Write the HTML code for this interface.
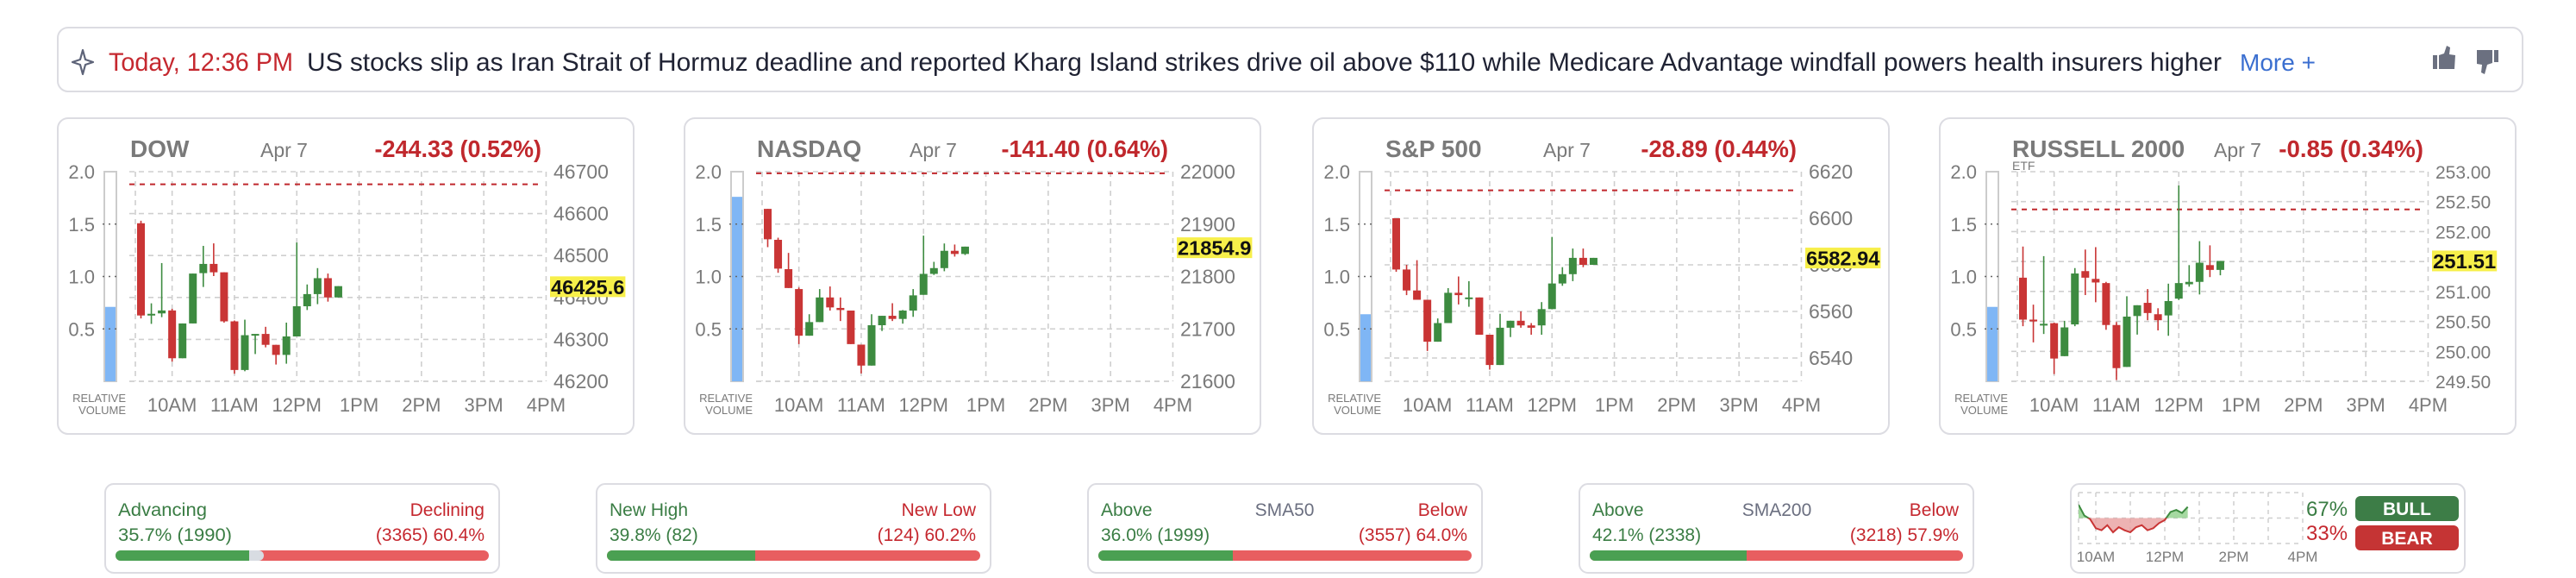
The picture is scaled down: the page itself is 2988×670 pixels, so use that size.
<!DOCTYPE html>
<html><head><meta charset="utf-8">
<style>
html,body{margin:0;padding:0;background:#fff;width:2988px;height:670px;overflow:hidden;}
svg{display:block;font-family:"Liberation Sans",sans-serif;}
</style></head>
<body>
<svg id="root" width="2988" height="670" viewBox="0 0 2988 670" xmlns="http://www.w3.org/2000/svg">
  <!-- News bar -->
  <g>
    <rect x="67" y="32" width="2859" height="74" rx="12" fill="#fff" stroke="#dcdce2" stroke-width="2"/>
    <path d="M96 58 L99 69 L108 72 L99 75 L96 86 L93 75 L84 72 L93 69 Z" fill="none" stroke="#5d6378" stroke-width="2.2" stroke-linejoin="round"/>
    <text x="126" y="82" font-size="30" fill="#c5282f" textLength="214" lengthAdjust="spacingAndGlyphs">Today, 12:36 PM</text>
    <text x="356" y="82" font-size="30" fill="#1f2233" textLength="2221" lengthAdjust="spacingAndGlyphs">US stocks slip as Iran Strait of Hormuz deadline and reported Kharg Island strikes drive oil above $110 while Medicare Advantage windfall powers health insurers higher</text>
    <text x="2598" y="82" font-size="28" fill="#3b6fd0" textLength="88" lengthAdjust="spacingAndGlyphs">More +</text>
    <g fill="#6b7080">
      <rect x="2822" y="64" width="5" height="16"/>
      <path d="M2829 64 L2835 62 L2838 53 L2842 55 L2841 63 L2848 64 L2847 80 L2829 80 Z"/>
    </g>
    <g fill="#6b7080">
      <rect x="2893" y="58" width="5" height="14"/>
      <path d="M2873 58 L2891 58 L2891 73 L2885 75 L2882 86 L2878 84 L2879 75 L2873 74 Z"/>
    </g>
  </g>

  <g id="cards"></g>

  <!-- Breadth boxes -->
  <g>
    <rect x="122" y="561" width="457" height="103" rx="10" fill="#fff" stroke="#dcdce2" stroke-width="2"/>
    <text x="137" y="598" font-size="21" fill="#3a7d44" textLength="103" lengthAdjust="spacingAndGlyphs">Advancing</text>
    <text x="562" y="598" font-size="21" fill="#c5282f" text-anchor="end">Declining</text>
    <text x="137" y="627" font-size="21" fill="#3a7d44" textLength="132" lengthAdjust="spacingAndGlyphs">35.7% (1990)</text>
    <text x="562" y="627" font-size="21" fill="#c5282f" text-anchor="end">(3365) 60.4%</text>
    <rect x="134" y="638" width="433" height="12" rx="6" fill="#e85e60"/>
    <rect x="134" y="638" width="172" height="12" rx="6" fill="#d8dce2"/>
    <rect x="134" y="638" width="155" height="12" rx="6" fill="#4aa052"/>
    <rect x="282" y="638" width="7" height="12" fill="#4aa052"/>
  </g>
  <g>
    <rect x="692" y="561" width="457" height="103" rx="10" fill="#fff" stroke="#dcdce2" stroke-width="2"/>
    <text x="707" y="598" font-size="21" fill="#3a7d44">New High</text>
    <text x="1132" y="598" font-size="21" fill="#c5282f" text-anchor="end">New Low</text>
    <text x="707" y="627" font-size="21" fill="#3a7d44">39.8% (82)</text>
    <text x="1132" y="627" font-size="21" fill="#c5282f" text-anchor="end">(124) 60.2%</text>
    <rect x="704" y="638" width="433" height="12" rx="6" fill="#e85e60"/>
    <rect x="704" y="638" width="172" height="12" rx="6" fill="#4aa052"/>
    <rect x="866" y="638" width="10" height="12" fill="#4aa052"/>
  </g>
  <g>
    <rect x="1262" y="561" width="457" height="103" rx="10" fill="#fff" stroke="#dcdce2" stroke-width="2"/>
    <text x="1277" y="598" font-size="21" fill="#3a7d44">Above</text>
    <text x="1490" y="598" font-size="21" fill="#6b6f80" text-anchor="middle">SMA50</text>
    <text x="1702" y="598" font-size="21" fill="#c5282f" text-anchor="end">Below</text>
    <text x="1277" y="627" font-size="21" fill="#3a7d44">36.0% (1999)</text>
    <text x="1702" y="627" font-size="21" fill="#c5282f" text-anchor="end">(3557) 64.0%</text>
    <rect x="1274" y="638" width="433" height="12" rx="6" fill="#e85e60"/>
    <rect x="1274" y="638" width="156" height="12" rx="6" fill="#4aa052"/>
    <rect x="1420" y="638" width="10" height="12" fill="#4aa052"/>
  </g>
  <g>
    <rect x="1832" y="561" width="457" height="103" rx="10" fill="#fff" stroke="#dcdce2" stroke-width="2"/>
    <text x="1847" y="598" font-size="21" fill="#3a7d44">Above</text>
    <text x="2061" y="598" font-size="21" fill="#6b6f80" text-anchor="middle">SMA200</text>
    <text x="2272" y="598" font-size="21" fill="#c5282f" text-anchor="end">Below</text>
    <text x="1847" y="627" font-size="21" fill="#3a7d44">42.1% (2338)</text>
    <text x="2272" y="627" font-size="21" fill="#c5282f" text-anchor="end">(3218) 57.9%</text>
    <rect x="1844" y="638" width="433" height="12" rx="6" fill="#e85e60"/>
    <rect x="1844" y="638" width="182" height="12" rx="6" fill="#4aa052"/>
    <rect x="2016" y="638" width="10" height="12" fill="#4aa052"/>
  </g>
  <g id="sentiment">
    <rect x="2402" y="561" width="457" height="103" rx="10" fill="#fff" stroke="#dcdce2" stroke-width="2"/>
    <text x="2675" y="598" font-size="24" fill="#3a7d44">67%</text>
    <text x="2675" y="626" font-size="24" fill="#c5282f">33%</text>
    <g>
      <rect x="2732" y="575" width="120" height="29" rx="6" fill="#3d7d47"/>
      <text x="2792" y="597" font-size="21" font-weight="bold" fill="#fff" text-anchor="middle">BULL</text>
    </g>
    <g>
      <rect x="2732" y="609" width="120" height="29" rx="6" fill="#c53434"/>
      <text x="2792" y="631" font-size="21" font-weight="bold" fill="#fff" text-anchor="middle">BEAR</text>
    </g>
  </g>
</svg>
<script>
// ---- shared time axis ----
const candleTimes = [0,10,20,30,40,50,60,70,80,90,100,110,120,130,140,150,160,170,180,190];
const hourLabels = ["10AM","11AM","12PM","1PM","2PM","3PM","4PM"];
const hourMinutes = [30,90,150,210,270,330,390];
const volTicks = [0.5,1.0,1.5,2.0];

// ---- DOW ----
const dowOpen  = [46577,46359,46362,46369,46255,46338,46458,46480,46460,46343,46227,46310,46313,46287,46263,46307,46379,46408,46446,46400];
const dowHigh  = [46583,46386,46482,46373,46338,46457,46523,46529,46460,46345,46347,46313,46330,46287,46340,46531,46431,46470,46457,46427];
const dowLow   = [46350,46337,46353,46247,46255,46338,46425,46451,46340,46218,46224,46265,46281,46240,46242,46307,46370,46384,46390,46400];
const dowClose = [46357,46361,46369,46255,46338,46457,46480,46460,46343,46227,46310,46313,46287,46263,46307,46379,46408,46446,46400,46427];
const dowTicks = [46200,46300,46400,46500,46600,46700];
const dowTickLabels = ["46200","46300","46400","46500","46600","46700"];

// ---- NASDAQ ----
const ndqOpen  = [21929,21870,21814,21776,21687,21713,21760,21740,21735,21670,21630,21707,21725,21719,21735,21765,21805,21816,21849,21843];
const ndqHigh  = [21929,21874,21845,21779,21728,21776,21781,21760,21735,21670,21728,21725,21749,21736,21776,21878,21828,21863,21861,21857];
const ndqLow   = [21856,21807,21778,21671,21687,21713,21735,21715,21671,21615,21630,21696,21715,21710,21723,21765,21803,21810,21838,21841];
const ndqClose = [21871,21815,21778,21687,21713,21760,21741,21736,21671,21630,21707,21725,21719,21735,21764,21805,21816,21849,21843,21857];
const ndqTicks = [21600,21700,21800,21900,22000];
const ndqTickLabels = ["21600","21700","21800","21900","22000"];

// ---- S&P 500 ----
const spxOpen  = [6600,6578,6569,6565,6547,6555,6568,6566,6566,6550,6537,6553,6556,6554,6554,6561,6572,6576,6583,6580];
const spxHigh  = [6600,6580,6582,6565,6557,6570,6575,6573,6566,6550,6559,6556,6560,6555,6564,6592,6579,6587,6587,6583];
const spxLow   = [6577,6567,6565,6543,6547,6555,6563,6562,6550,6535,6537,6549,6553,6550,6550,6561,6571,6573,6579,6580];
const spxClose = [6578,6569,6565,6547,6555,6568,6567,6566,6550,6537,6553,6556,6554,6553,6561,6572,6576,6583,6580,6583];
const spxTicks = [6540,6560,6580,6600,6620];
const spxTickLabels = ["6540","6560","6580","6600","6620"];

// ---- RUSSELL 2000 ----
const rutOpen  = [251.23,250.53,250.44,250.47,249.92,250.45,251.34,251.21,251.14,250.44,249.74,250.59,250.81,250.62,250.60,250.88,251.12,251.16,251.44,251.36];
const rutHigh  = [251.75,250.78,251.59,250.48,250.51,251.39,251.70,251.74,251.16,250.49,250.92,250.77,251.04,250.72,251.13,252.77,251.44,251.84,251.77,251.51];
const rutLow   = [250.42,250.15,250.29,249.62,249.92,250.42,250.94,250.82,250.36,249.52,249.74,250.28,250.52,250.35,250.26,250.86,251.08,250.95,251.24,251.27];
const rutClose = [250.53,250.50,250.46,249.88,250.40,251.30,251.23,251.15,250.44,249.72,250.58,250.77,250.64,250.52,250.84,251.14,251.16,251.48,251.36,251.51];
const rutTicks = [249.5,250.0,250.5,251.0,251.5,252.0,252.5,253.0];
const rutTickLabels = ["249.50","250.00","250.50","251.00","251.50","252.00","252.50","253.00"];

// ---- headers / summary values ----
const prevCloses = [46670, 21997, 6612, 252.37];
const lastPrices = ["46425.6","21854.9","6582.94","251.51"];
const lastValues = [46425.6, 21854.9, 6582.94, 251.51];
const relVolumes = [0.71, 1.76, 0.64, 0.71];
const titles = ["DOW","NASDAQ","S&P 500","RUSSELL 2000"];
const changes = ["-244.33 (0.52%)","-141.40 (0.64%)","-28.89 (0.44%)","-0.85 (0.34%)"];

// ---- sentiment mini chart (percent bullish) ----
const sentimentTimes = [0,10,20,30,40,50,60,70,80,90,100,110,120,130,140,150,160,170,180,190];
const sentimentValues = [76,55,48,30,26,36,22,32,26,22,32,36,26,30,40,46,62,66,60,72];

const NS = "http://www.w3.org/2000/svg";
function el(tag, parent){ const e=document.createElementNS(NS,tag); parent.appendChild(e); return e; }

const PT=199, PB=442;
const GREEN="#3d8b40", RED="#c93535";
const cardsG = document.getElementById("cards");

function drawCard(idx, cl, dom, opens, highs, lows, closes, ticks, tickLabels, dateRel, tickFont){
  const g = el("g", cardsG);
  
  
  const xT = t => cl + 96.5 + t*72.3/60;
  const yP = p => PT + (dom[1]-p)/(dom[1]-dom[0])*(PB-PT);
  const yV = v => PB - v/2*(PB-PT);

  const card = el("rect", g);
  
  
  [["x",cl],["y",137],["width",668],["height",366],["rx",12],["fill","#fff"],["stroke","#dcdce2"],["stroke-width",2]].forEach(a=>card.setAttribute(a[0],a[1]));

  const title = el("text", g);
  
  
  [["x",cl+84],["y",182],["font-size",28],["font-weight","bold"],["fill","#7a7a7a"]].forEach(a=>title.setAttribute(a[0],a[1]));
  title.textContent = titles[idx];
  if(idx===3){
    const etf = el("text", g);
    
    
    [["x",cl+84],["y",197],["font-size",14],["fill","#7a7a7a"]].forEach(a=>etf.setAttribute(a[0],a[1]));
    etf.textContent="ETF";
  }
  const date = el("text", g);
  
  
  [["x",cl+dateRel],["y",182],["font-size",23],["fill","#7a7a7a"]].forEach(a=>date.setAttribute(a[0],a[1]));
  date.textContent="Apr 7";
  const ch = el("text", g);
  
  
  const chLen = changes[idx].length*12.9;
  [["x",cl+561-chLen],["y",182],["font-size",28],["font-weight","bold"],["fill","#c0282d"],["textLength",chLen],["lengthAdjust","spacingAndGlyphs"]].forEach(a=>ch.setAttribute(a[0],a[1]));
  ch.textContent = changes[idx];

  // grid horizontal
  ticks.forEach((p,i)=>{
    const l = el("line", g);
    
    
    [["x1",cl+83],["x2",cl+566],["y1",yP(p)],["y2",yP(p)],["stroke","#cfcfcf"],["stroke-width",1.6],["stroke-dasharray","6 5"]].forEach(a=>l.setAttribute(a[0],a[1]));
  });
  const botLine = el("line", g);
  
  
  [["x1",cl+83],["x2",cl+566],["y1",PB],["y2",PB],["stroke","#cfcfcf"],["stroke-width",1.6],["stroke-dasharray","6 5"]].forEach(a=>botLine.setAttribute(a[0],a[1]));
  // grid vertical
  [0].concat(hourMinutes).forEach((m,i)=>{
    const x = i===0 ? cl+90 : xT(m);
    const l = el("line", g);
    
    
    [["x1",x],["x2",x],["y1",PT],["y2",PB],["stroke","#cfcfcf"],["stroke-width",1.6],["stroke-dasharray","6 5"]].forEach(a=>l.setAttribute(a[0],a[1]));
  });
  hourLabels.forEach((lab,i)=>{
    const t = el("text", g);
    
    
    [["x",xT(hourMinutes[i])],["y",477],["font-size",22],["fill","#7a7a7a"],["text-anchor","middle"]].forEach(a=>t.setAttribute(a[0],a[1]));
    t.textContent = lab;
  });
  // volume
  volTicks.forEach(v=>{
    const t = el("text", g);
    
    
    [["x",cl+43],["y",yV(v)+8],["font-size",22],["fill","#7a7a7a"],["text-anchor","end"]].forEach(a=>t.setAttribute(a[0],a[1]));
    t.textContent = v.toFixed(1);
  });
  const vb = el("rect", g);
  
  
  [["x",cl+54],["y",PT],["width",14],["height",PB-PT],["fill","#fff"],["stroke","#cccccc"],["stroke-width",2]].forEach(a=>vb.setAttribute(a[0],a[1]));
  const vf = el("rect", g);
  
  
  [["x",cl+55],["y",yV(relVolumes[idx])],["width",12],["height",PB-yV(relVolumes[idx])],["fill","#7fb6f5"]].forEach(a=>vf.setAttribute(a[0],a[1]));
  volTicks.slice(0,3).forEach(v=>{
    const l = el("line", g);
    
    
    [["x1",cl+52],["x2",cl+68],["y1",yV(v)],["y2",yV(v)],["stroke","#666"],["stroke-width",1.5],["stroke-dasharray","2 5"]].forEach(a=>l.setAttribute(a[0],a[1]));
  });
  ["RELATIVE","VOLUME"].forEach((s,i)=>{
    const t = el("text", g);
    
    
    [["x",cl+79],["y",466+i*14],["font-size",13],["fill","#7a7a7a"],["text-anchor","end"]].forEach(a=>t.setAttribute(a[0],a[1]));
    t.textContent = s;
  });
  // right tick labels
  ticks.forEach((p,i)=>{
    const t = el("text", g);
    
    
    [["x",cl+575],["y",yP(p)+8],["font-size",tickFont],["fill","#7a7a7a"]].forEach(a=>t.setAttribute(a[0],a[1]));
    t.textContent = tickLabels[i];
  });
  // prev close
  const pc = el("line", g);
  
  
  [["x1",cl+83],["x2",cl+558],["y1",yP(prevCloses[idx])],["y2",yP(prevCloses[idx])],["stroke","#c0282d"],["stroke-width",2],["stroke-dasharray","6 6"]].forEach(a=>pc.setAttribute(a[0],a[1]));
  // candles
  candleTimes.forEach((tm,i)=>{
    const up = closes[i] >= opens[i];
    const col = up ? GREEN : RED;
    const x = xT(tm);
    const w = el("line", g);
    
    
    [["x1",x],["x2",x],["y1",yP(highs[i])],["y2",yP(lows[i])],["stroke",col],["stroke-width",1.6]].forEach(a=>w.setAttribute(a[0],a[1]));
    const top = yP(Math.max(opens[i],closes[i])), bot = yP(Math.min(opens[i],closes[i]));
    const b = el("rect", g);
    
    
    [["x",x-4.5],["y",top],["width",9],["height",Math.max(2,bot-top)],["fill",col]].forEach(a=>b.setAttribute(a[0],a[1]));
  });
  // last price box
  const ly = yP(lastValues[idx]);
  const lb = el("rect", g);
  
  
  [["x",cl+571],["y",ly-12],["width",lastPrices[idx].length*12.2+2],["height",24],["fill","#f7ef4a"]].forEach(a=>lb.setAttribute(a[0],a[1]));
  const lt = el("text", g);
  
  
  [["x",cl+572],["y",ly+8.5],["font-size",23],["font-weight","bold"],["fill","#111"],["textLength",lastPrices[idx].length*12.2],["lengthAdjust","spacingAndGlyphs"]].forEach(a=>lt.setAttribute(a[0],a[1]));
  lt.textContent = lastPrices[idx];
}

drawCard(0, 67,   [46200,46700], dowOpen, dowHigh, dowLow, dowClose, dowTicks, dowTickLabels, 235, 23);
drawCard(1, 794,  [21600,22000], ndqOpen, ndqHigh, ndqLow, ndqClose, ndqTicks, ndqTickLabels, 261, 23);
drawCard(2, 1523, [6530,6620],   spxOpen, spxHigh, spxLow, spxClose, spxTicks, spxTickLabels, 267, 23);
drawCard(3, 2250, [249.5,253],   rutOpen, rutHigh, rutLow, rutClose, rutTicks, rutTickLabels, 318, 21);

// ---- sentiment mini chart ----
(function(){
  const g = document.getElementById("sentiment");
  const L=2411, R=2671, T=571, B=630;
  const xS = t => L + t*(R-L)/390;
  const yS = v => B - v/100*(B-T);
  const mid = yS(50);
  const grid = el("g", g);
  
  
  [T, mid, B].forEach(y=>{
    const l = el("line", grid);
    
    
    [["x1",L],["x2",R],["y1",y],["y2",y],["stroke","#cfcfcf"],["stroke-width",1.5],["stroke-dasharray","5 5"]].forEach(a=>l.setAttribute(a[0],a[1]));
  });
  [0,30,90,150,210,270,330,390].forEach(m=>{
    const l = el("line", grid);
    
    
    [["x1",xS(m)],["x2",xS(m)],["y1",T],["y2",B],["stroke","#cfcfcf"],["stroke-width",1.5],["stroke-dasharray","5 5"]].forEach(a=>l.setAttribute(a[0],a[1]));
  });
  const pts = sentimentTimes.map((t,i)=>xS(t)+","+yS(sentimentValues[i]));
  const areaD = "M"+xS(sentimentTimes[0])+","+mid+" L"+pts.join(" L")+" L"+xS(sentimentTimes[sentimentTimes.length-1])+","+mid+" Z";
  const defs = el("defs", g);
  const c1 = el("clipPath", defs); c1.setAttribute("id","clipAbove");
  const r1 = el("rect", c1); [["x",L],["y",T-5],["width",R-L],["height",mid-T+5]].forEach(a=>r1.setAttribute(a[0],a[1]));
  const c2 = el("clipPath", defs); c2.setAttribute("id","clipBelow");
  const r2 = el("rect", c2); [["x",L],["y",mid],["width",R-L],["height",B-mid+5]].forEach(a=>r2.setAttribute(a[0],a[1]));
  [["clipAbove","#3d8b40","#8fd08a"],["clipBelow","#c93535","#e8a0a0"]].forEach(([cp,line,fill])=>{
    const a = el("path", g);
    
    
    [["d",areaD],["fill",fill],["opacity",0.8],["clip-path","url(#"+cp+")"]].forEach(x=>a.setAttribute(x[0],x[1]));
    const p = el("polyline", g);
    
    
    [["points",pts.join(" ")],["fill","none"],["stroke",line],["stroke-width",2],["clip-path","url(#"+cp+")"]].forEach(x=>p.setAttribute(x[0],x[1]));
  });
  const labs=["10AM","12PM","2PM","4PM"], mins=[30,150,270,390];
  labs.forEach((s,i)=>{
    const t = el("text", g);
    
    
    [["x",xS(mins[i])],["y",651],["font-size",17],["fill","#7a7a7a"],["text-anchor","middle"]].forEach(a=>t.setAttribute(a[0],a[1]));
    t.textContent = s;
  });
})();
</script>
</body></html>
